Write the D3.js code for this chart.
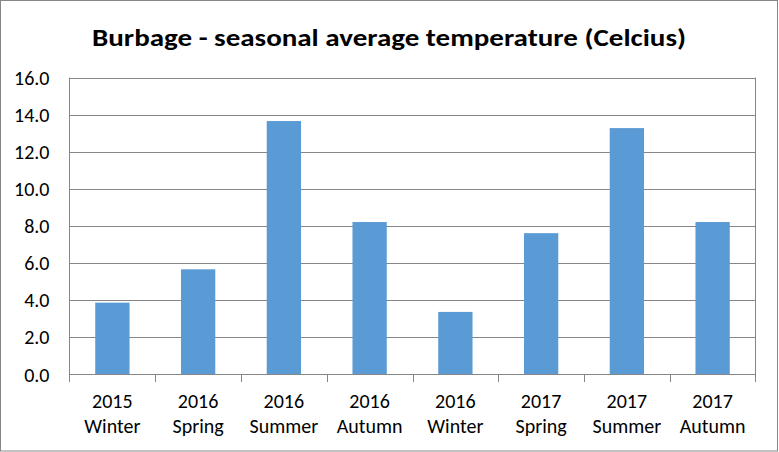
<!DOCTYPE html>
<html>
<head>
<meta charset="utf-8">
<script src="https://cdn.jsdelivr.net/npm/d3@7"></script>
<style>
  body { margin: 0; background: #fff; }
  svg { display: block; }
  text { font-family: Carlito, Calibri, Lato, "Open Sans", sans-serif; fill: #000; }
</style>
</head>
<body>
<div id="mainDiv"></div>
<script>
'use strict';

var years = ['2015', '2016', '2016', '2016', '2016', '2017', '2017', '2017'];
var seasons = ['Winter', 'Spring', 'Summer', 'Autumn', 'Winter', 'Spring', 'Summer', 'Autumn'];
var temps = [3.85, 5.65, 13.65, 8.2, 3.35, 7.6, 13.27, 8.2];
var yTicks = [0, 2, 4, 6, 8, 10, 12, 14, 16];

var chart = {};

chart.run = function()
{
    var W = 779, H = 452;
    var left = 69.5, right = 755.5, top = 77.5, bottom = 374;
    var grey = '#868686';

    var svg = d3.select('#mainDiv').append('svg')
        .attr('width', W)
        .attr('height', H);

    // outer frame
    svg.append('rect')
        .attr('x', 0.5).attr('y', 0.5)
        .attr('width', W - 2).attr('height', H - 1.5)
        .attr('fill', '#fff')
        .attr('stroke', grey);

    svg.append('text')
        .attr('x', 389).attr('y', 46)
        .attr('text-anchor', 'middle')
        .attr('font-weight', 'bold')
        .attr('font-size', 25)
        .attr('textLength', 594)
        .attr('lengthAdjust', 'spacingAndGlyphs')
        .text('Burbage - seasonal average temperature (Celcius)');

    var idx = d3.range(temps.length);

    var x = d3.scaleBand()
        .domain(idx)
        .range([left, right])
        .padding(0);

    var y = d3.scaleLinear()
        .domain([0, 16])
        .range([bottom, top]);

    // gridlines
    svg.append('g')
        .selectAll('line')
        .data(yTicks)
        .enter()
        .append('line')
        .attr('x1', left).attr('x2', right)
        .attr('y1', function(d){ return Math.round(y(d)) + 0.5; })
        .attr('y2', function(d){ return Math.round(y(d)) + 0.5; })
        .attr('stroke', grey);

    // right border of plot
    svg.append('line')
        .attr('x1', right).attr('x2', right)
        .attr('y1', top).attr('y2', bottom + 8)
        .attr('stroke', grey);

    // bars
    var bw = x.bandwidth();
    svg.append('g')
        .selectAll('rect')
        .data(idx)
        .enter()
        .append('rect')
        .attr('x', function(i){ return x(i) + bw * 0.3; })
        .attr('width', bw * 0.4)
        .attr('y', function(i){ return y(temps[i]); })
        .attr('height', function(i){ return y(0) - y(temps[i]); })
        .attr('fill', '#5b9bd5');

    // y axis
    var yAxis = d3.axisLeft(y)
        .tickValues(yTicks)
        .tickFormat(d3.format('.1f'))
        .tickSize(0)
        .tickPadding(20);

    var gy = svg.append('g')
        .attr('transform', 'translate(' + left + ',0)')
        .call(yAxis);
    gy.select('.domain').remove();
    gy.selectAll('text')
        .attr('font-size', 20)
        .attr('dy', '0.35em')
        .style('font-family', null);

    svg.append('line')
        .attr('x1', left).attr('x2', left)
        .attr('y1', top).attr('y2', bottom + 8)
        .attr('stroke', grey);

    // x axis ticks at category boundaries
    var bounds = idx.map(function(i){ return x(i); }).concat([right]);
    svg.append('g')
        .selectAll('line')
        .data(bounds.slice(1, -1))
        .enter()
        .append('line')
        .attr('x1', function(d){ return Math.round(d) + 0.5; })
        .attr('x2', function(d){ return Math.round(d) + 0.5; })
        .attr('y1', bottom).attr('y2', bottom + 8)
        .attr('stroke', grey);

    // x labels, two lines
    var lab = svg.append('g')
        .selectAll('text')
        .data(idx)
        .enter()
        .append('text')
        .attr('text-anchor', 'middle')
        .attr('font-size', 20);

    lab.append('tspan')
        .attr('x', function(i){ return x(i) + bw / 2; })
        .attr('y', 408)
        .text(function(i){ return years[i]; });

    lab.append('tspan')
        .attr('x', function(i){ return x(i) + bw / 2; })
        .attr('y', 433)
        .text(function(i){ return seasons[i]; });
}

chart.run();
</script>
</body>
</html>
